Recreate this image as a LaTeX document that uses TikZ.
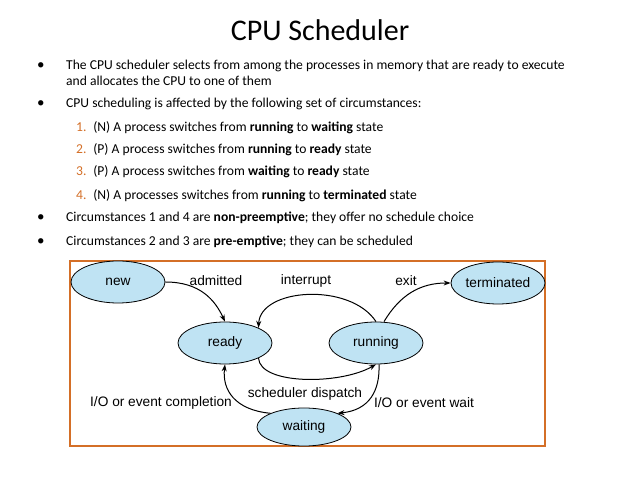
\documentclass[tikz,border=0pt]{standalone}
\usepackage{fontspec}
\setmainfont{Carlito}
\newfontfamily\diag{Liberation Sans}
\usetikzlibrary{shapes.geometric,arrows.meta}
\definecolor{stfill}{HTML}{BFE3F3}
\definecolor{frame}{HTML}{D46F27}
\definecolor{numc}{HTML}{D46F27}
\tikzset{
 st/.style={ellipse,draw=black,line width=0.8pt,fill=stfill,minimum width=94pt,minimum height=42pt,inner sep=0pt,font=\diag\fontsize{13.7}{15}\selectfont},
 lab/.style={font=\diag\fontsize{13.7}{15}\selectfont,inner sep=0pt},
 tr/.style={-{Stealth[length=7pt,width=5pt]},line width=1pt},
 bul/.style={anchor=west,font=\fontsize{13.6}{16}\selectfont,inner sep=0pt},
}
\begin{document}
\begin{tikzpicture}[x=1pt,y=-1pt]
\useasboundingbox (0,0) rectangle (638,478);
\fill[white] (0,0) rectangle (638,478);
\node[font=\fontsize{30}{34}\selectfont] (title) at (320,30) {CPU Scheduler};
\foreach \y in {66,104,218,242} \node[bul,font=\fontsize{15}{16}\selectfont] at (37,\y) {•};
\node[bul,align=left] (b1) at (66,73) {The CPU scheduler selects from among the processes in memory that are ready to execute\\and allocates the CPU to one of them};
\node[bul] (b2) at (66,104) {CPU scheduling is affected by the following set of circumstances:};
\node[bul] (c1) at (76,128) {\textcolor{numc}{1.}\enspace(N) A process switches from \textbf{running} to \textbf{waiting} state};
\node[bul] (c2) at (76,150) {\textcolor{numc}{2.}\enspace(P) A process switches from \textbf{running} to \textbf{ready} state};
\node[bul] (c3) at (76,172) {\textcolor{numc}{3.}\enspace(P) A process switches from \textbf{waiting} to \textbf{ready} state};
\node[bul] (c4) at (76,196) {\textcolor{numc}{4.}\enspace(N) A processes switches from \textbf{running} to \textbf{terminated} state};
\node[bul] (b3) at (66,218) {Circumstances 1 and 4 are \textbf{non-preemptive}; they offer no schedule choice};
\node[bul] (b4) at (66,242) {Circumstances 2 and 3 are \textbf{pre-emptive}; they can be scheduled};
\draw[frame,line width=2.5pt] (70,261) rectangle (545,446);
\node[st] (new) at (118,282) {new};
\node[st] (ready) at (225,343) {ready};
\node[st] (running) at (376,343) {running};
\node[st] (term) at (498,283) {terminated};
\node[st,minimum height=38pt] (wait) at (304,427) {waiting};
\node[lab] (l1) at (216,281) {admitted};
\node[lab] (l2) at (306,281) {interrupt};
\node[lab] (l3) at (406,281) {exit};
\node[lab] (l4) at (305,394) {scheduler dispatch};
\node[lab] (l5) at (161,403) {I/O or event completion};
\node[lab] (l6) at (424,403) {I/O or event wait};
\draw[tr] (new.east) .. controls (200,282) and (215,300) .. (ready.north);
\draw[tr] (running.north) .. controls (350,282) and (260,288) .. (ready.north east);
\draw[tr] (ready.south east) .. controls (260,385) and (340,385) .. (running.south);
\draw[tr] (running.north) ++(8,0) .. controls (400,295) and (420,283) .. (term.west);
\draw[tr] (running.south) ++(3,0) .. controls (380,390) and (370,410) .. (wait.north east);
\draw[tr] (wait.north west) .. controls (235,410) and (222,390) .. (ready.south);
\end{tikzpicture}
\end{document}
